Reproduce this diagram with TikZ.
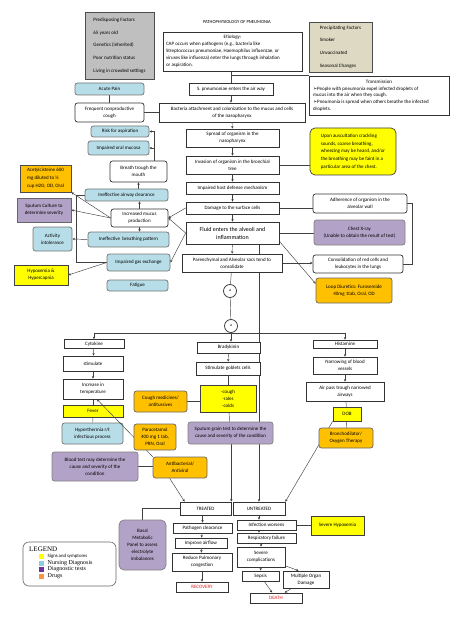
\documentclass[tikz,border=0pt]{standalone}
\usepackage{fontspec}
\setmainfont{Carlito}
\newfontfamily\legfont{Liberation Serif}
\newfontfamily\dingfont{DejaVu Sans}
\usetikzlibrary{arrows.meta,calc,backgrounds}
\definecolor{ndblue}{HTML}{B7DEE8}
\definecolor{dxpurp}{HTML}{B3A2C7}
\definecolor{rxorg}{HTML}{FFC000}
\definecolor{ssyel}{HTML}{FFFF00}
\definecolor{pregray}{HTML}{BFBFBF}
\definecolor{prctan}{HTML}{DDD9C3}
\definecolor{legblue}{HTML}{93CDDD}
\definecolor{legpurp}{HTML}{7030A0}
\definecolor{legorg}{HTML}{F79646}
\definecolor{dead}{HTML}{E02020}
\tikzset{sz/.style 2 args={minimum width=#1pt, minimum height=#2pt}}

\begin{document}
\begin{tikzpicture}[x=1pt,y=-1pt]
\tikzstyle{bx}=[draw=black!80, line width=0.7pt, fill=white, inner sep=0.5pt,
                align=center, font=\fontsize{5}{7}\selectfont]
\tikzstyle{rbx}=[bx, rounded corners=2.5pt]
\tikzstyle{nd}=[rbx, fill=ndblue, draw=black!55]
\tikzstyle{ss}=[bx, fill=ssyel, draw=black!75]
\tikzstyle{dx}=[rbx, fill=dxpurp, draw=black!50]
\tikzstyle{rx}=[rbx, fill=rxorg, draw=black!60]
\tikzstyle{ln}=[draw=black!75, line width=0.45pt]
\tikzstyle{arr}=[-{Stealth[length=2.6pt,width=2.4pt]}]
\tikzstyle{rnd}=[circle, draw=black!80, line width=0.7pt, fill=white, inner sep=0pt,
                 minimum size=13pt, font=\fontsize{4}{5}\selectfont]
\useasboundingbox (0,0) rectangle (474,620);

% top
\node[bx, draw=none, fill=none, font=\fontsize{4.6}{5}\selectfont] (ttl) at (237,22) {PATHOPHYSIOLOGY OF PNEUMONIA};
\node[bx, fill=pregray, draw=black!70, line width=0.9pt, sz={69}{67}, align=left,
      font=\fontsize{5}{12.7}\selectfont] (pre) at (119.5,45.5)
      {Predisposing Factors\\65 years old\\Genetics (inherited)\\Poor nutrition status\\Living in crowded settings};
\node[bx, sz={139}{39}, align=left] (etio) at (232.5,51.5)
      {\makebox[133pt]{Etiology:}\\CAP occurs when pathogens (e.g., bacteria like\\Streptococcus pneumoniae, Haemophilus influenzae, or\\viruses like influenza) enter the lungs through inhalation\\or aspiration.};
\node[bx, fill=prctan, draw=black!70, line width=0.9pt, sz={63}{50}, align=left,
      font=\fontsize{5}{12.7}\selectfont] (prc) at (340.5,47)
      {Precipitating Factors\\Smoker\\Unvaccinated\\Seasonal Changes};
\node[bx, sz={140}{39}, align=left, font=\fontsize{5}{6.8}\selectfont] (trans) at (379,95.5)
      {\makebox[132pt]{Transmission}\\{\dingfont ➢}People with pneumonia expel infected droplets of\\mucus into the air when they cough.\\{\dingfont ➢}Pneumonia is spread when others breathe the infected\\droplets.};

% main chain
\node[nd, sz={69}{12}] (pain) at (109.5,89) {Acute Pain};
\node[bx, sz={84}{12}] (spn) at (231,89) {S. pneumoniae enters the air way};
\node[rbx, sz={69}{19}] (cough) at (109.5,112.5) {Frequent nonproductive\\cough};
\node[bx, sz={146}{19}] (bact) at (232,112.5) {Bacteria attachment and colonization to the mucus and cells\\of the nasopharynx};
\node[nd, sz={58}{11}] (risk) at (120,131.5) {Risk for aspiration};
\node[nd, sz={61}{14}] (oral) at (118.5,148) {Impaired oral mucosa};
\node[rbx, sz={57}{21}] (breath) at (138.5,171.5) {Breath trough the\\mouth};
\node[bx, sz={93}{18}] (spread) at (232.5,138) {Spread of organism in the\\nasopharynx};
\node[bx, sz={93}{18}] (invas) at (232.5,165) {Invasion of organism in the bronchial\\tree};
\node[bx, sz={93}{12}] (host) at (232.5,188) {Impaired host defense mechanism};
\node[ss, rounded corners=5pt, sz={86}{47}, align=left, font=\fontsize{5}{7.8}\selectfont] (ausc) at (353,151.5)
      {Upon auscultation crackling\\sounds, coarse breathing,\\wheezing may be heard, and/or\\the breathing may be faint in a\\particular area of the chest.};
\node[rx, sharp corners, draw=black!70, sz={51}{27}, align=left, font=\fontsize{5}{8}\selectfont] (acet) at (45.5,178.5)
      {Acetylcisteine 600\\mg diluted to ½\\cup H2O, OD, Oral};
\node[nd, sz={83}{12}] (iac) at (126.5,195) {Ineffective airway clearance};
\node[bx, sz={93}{12}] (damage) at (232.5,208) {Damage to the surface cells};
\node[rbx, sz={94}{19}] (adh) at (360,203.5) {Adherence of organism in the\\alveolar wall};
\node[dx, sharp corners, draw=black!60, sz={54}{24}] (sput) at (44,210) {Sputum Culture to\\determine severity};
\node[rbx, sz={57}{18}] (imp) at (139.5,218) {Increased mucus\\production};
\node[bx, sz={93}{22}, font=\fontsize{6}{8}\selectfont] (fluid) at (232.5,233) {Fluid enters the alveoli and\\inflammation};
\node[dx, sz={91}{25}] (xray) at (359.5,232.5) {Chest X-ray\\(Unable to obtain the result of test)};
\node[nd, sz={39}{24}] (act) at (52.5,239) {Activity\\intolerance};
\node[nd, sz={81}{15}] (ibp) at (128.5,239.5) {Ineffective~~breathing pattern};
\node[bx, sz={100}{18}] (paren) at (232,263) {Parenchymal and Alveolar sacs tend to\\consolidate};
\node[rbx, sz={90}{18}] (cons) at (358,264) {Consolidation of red cells and\\leukocytes in the lungs};
\node[nd, sz={63}{17}] (ige) at (138.5,262.5) {Impaired gas exchange};
\node[ss, sz={54}{20}] (hypo) at (41,275) {Hypoxemia \&\\Hypercapnia};
\node[nd, sz={61}{11}] (fat) at (137.5,285.5) {Fatigue};
\node[rx, sz={76}{25}] (loop) at (354,290.5) {Loop Diuretics: Furosemide\\40mg 1tab, Oral, OD};
\node[rnd] (a1) at (230,291) {a};
\node[rnd] (a2) at (231,326) {a};

% three mediators
\node[bx, sz={60}{9}] (cyt) at (94,344) {Cytokine};
\node[bx, sz={60}{15}] (stim) at (93,363.5) {stimulate};
\node[bx, sz={60}{20}] (temp) at (93,389) {Increase in\\temperature};
\node[ss, sz={60}{12}] (fever) at (93,411) {Fever};
\node[nd, sz={61}{21}] (hyper) at (92.5,433.5) {Hyperthermia r/t\\infectious process};
\node[dx, sz={86}{29}] (blood) at (95,466.5) {Blood test may determine the\\cause and severity of the\\condition};
\node[rx, sz={54}{21}] (anti) at (180,467.5) {Antibacterial/\\Antiviral};
\node[bx, sz={63}{11}] (brady) at (228.5,347.5) {Bradykinin};
\node[bx, sz={64}{13}] (gob) at (228,368.5) {Stimulate goblets cells};
\node[ss, sz={56}{27}] (cgh) at (228,398.5) {-cough\\-rales\\-colds};
\node[rx, sz={53}{21}] (cmed) at (160.5,401.5) {Cough medicines/\\antitussives};
\node[dx, sz={85}{22}] (gram) at (230.5,433) {Sputum grain test to determine the\\cause and severity of the condition};
\node[bx, sz={64}{8}] (hist) at (345,344) {Histamine};
\node[bx, sz={64}{17}] (narr) at (345,365.5) {Narrowing of blood\\vessels};
\node[bx, sz={78}{19}] (air) at (345,391.5) {Air pass trough narrowed\\airways};
\node[ss, sz={28}{14}] (dob) at (347,414) {DOB};
\node[rx, sz={54}{20}] (bron) at (346,438) {Bronchodilator/\\Oxygen Therapy};

% outcome
\node[bx, sz={51}{13}] (trt) at (205.5,508.5) {TREATED};
\node[bx, sz={52}{13}] (unt) at (259,508.5) {UNTREATED};
\node[dx, rounded corners=5pt, sz={47}{50}] (bmp) at (142.5,545) {Basal\\Metabolic\\Panel to assess\\electrolyte\\imbalances};
\node[bx, sz={59}{10}] (path) at (202.5,528) {Pathogen clearance};
\node[bx, sz={52}{10}] (airf) at (201,543) {Improve airflow};
\node[bx, sz={60}{18}] (red) at (202,562) {Reduce Pulmonary\\congestion};
\node[bx, sz={52}{10}, text=dead] (rec) at (202,587) {RECOVERY};
\node[bx, sz={59}{10}] (inf) at (266.5,525) {Infection worsens};
\node[bx, sz={59}{10}] (resp) at (266.5,538) {Respiratory failure};
\node[bx, sz={48}{20}] (sev) at (261,557) {Severe\\complications};
\node[bx, sz={37}{10}] (seps) at (260.5,576) {Sepsis};
\node[bx, sz={46}{17}] (mod) at (306,579.5) {Multiple Organ\\Damage};
\node[bx, sz={52}{10}, text=dead] (death) at (276,598) {DEATH};
\node[ss, sz={53}{19}] (shyp) at (337.5,525.5) {Severe Hypoxemia};

% legend
\node[draw=black!60, rounded corners=6pt, line width=0.6pt, sz={93}{44}] (leg) at (69.5,564) {};
\node[anchor=west, inner sep=0pt, font=\legfont\fontsize{7}{8}\selectfont] (legt) at (29,549) {LEGEND};
\node[fill=ssyel, inner sep=0pt, sz={5}{5}] (k1) at (41.5,556) {};
\node[fill=legblue, inner sep=0pt, sz={5}{5}] (k2) at (41.5,563) {};
\node[fill=legpurp, inner sep=0pt, sz={5}{5}] (k3) at (41.5,569.5) {};
\node[fill=legorg, inner sep=0pt, sz={5}{5}] (k4) at (41.5,576.5) {};
\node[anchor=west, inner sep=0pt, font=\fontsize{4.8}{5}\selectfont] (l1) at (47.5,556) {Signs and symptoms};
\node[anchor=west, inner sep=0pt, font=\legfont\fontsize{6}{6}\selectfont] (l2) at (47.5,563) {Nursing Diagnosis};
\node[anchor=west, inner sep=0pt, font=\legfont\fontsize{6}{6}\selectfont] (l3) at (47.5,569.5) {Diagnostic tests};
\node[anchor=west, inner sep=0pt, font=\legfont\fontsize{6}{6}\selectfont] (l4) at (47.5,576.5) {Drugs};

\coordinate (bt) at ($(breath.north)+(15.5,0)$);

\begin{pgfonlayer}{background}
% top links
\draw[ln] (spn.north |- etio.south) -- (spn.north);
\draw[ln] (spn.north |- trans.north) -- (trans.north west);
\draw[ln] (pain) -- (cough);
\draw[ln] (cough) -- (bact);
\draw[ln,arr] (spn) -- (spn |- bact.north);
\draw[ln,arr] (bact) -- (spread);
\draw[ln,arr] (spread) -- (invas);
\draw[ln,arr] (invas) -- (host);
\draw[ln,arr] (host) -- (damage);
\draw[ln,arr] (damage) -- (fluid);
\draw[ln,arr] (fluid) -- (paren);
\draw[ln] (invas.east) -- (invas.east -| ausc.west);
\draw[ln] (damage.east) -- (damage.east -| adh.west);
\draw[ln] (fluid.east) -- (fluid.east -| xray.west);
\draw[ln,arr] (paren.east) -- (paren.east -| cons.west);
\draw[ln] (adh.east) -- ++(5,0) |- (cons.east);
\draw[ln,arr] (fluid.-10) -- (loop.170);
\draw[ln] (paren) -- (a1);
\draw[ln] (a1) -- (a2);
\draw[ln] (cyt.north |- a2.south) -- (hist.north |- a2.south);
\draw[ln,arr] (cyt.north |- a2.south) -- (cyt.north);
\draw[ln,arr] (a2.south) -- (a2.south |- brady.north);
\draw[ln,arr] (hist.north |- a2.south) -- (hist.north);
\draw[ln,arr] (unt.north |- fluid.south) -- (unt.north);
% nursing side
\draw[ln,arr] (damage.west) -- (imp.east);
\draw[ln,arr] (fluid.west) -- (imp.east);
\draw[ln,arr] (fluid.west) -- (ige.east);
\draw[ln,arr] (imp.north) -- (imp.north |- iac.south);
\draw[ln,arr] (breath.south |- iac.north) -- (breath.south);
\draw[ln] (bt) -- (bt |- risk.east);
\draw[ln,arr] (bt |- risk.east) -- (risk.east);
\draw[ln,arr] (bt |- oral.east) -- (oral.east);
\draw[ln,arr] (imp.south) -- (imp.south |- ibp.north);
\draw[ln,arr] (imp.west) -- (acet.south east);
\draw[ln,arr] (imp.west) -- (sput.east);
\draw[ln] (iac.west) -- ++(-8,0) |- (ige.west);
\draw[ln,arr] (ibp.west) -- (act.east);
\draw[ln,arr] (ige.west) -- (hypo.east);
% mediators
\draw[ln,arr] (cyt) -- (stim);
\draw[ln,arr] (stim) -- (temp);
\draw[ln] (temp) -- (fever);
\draw[ln] (fever) -- (hyper);
\draw[ln] (blood.east) -- (blood.east -| anti.west);
\draw[ln,arr] ($(anti.south west)+(17,0)$) -- ($(trt.north west)+(5,0)$);
\draw[ln,arr] (brady) -- (gob);
\draw[ln] (gob) -- (cgh);
\draw[ln] (cmed.east) -- (cmed.east -| cgh.west);
\draw[ln] (cgh) -- (gram);
\draw[ln,arr] (gram.south -| trt.north east) -- (trt.north east);
\draw[ln,arr] (hist) -- (narr);
\draw[ln,arr] (narr) -- (air);
\draw[ln] (air) -- (dob);
\draw[ln] (dob) -- (bron);
\draw[ln,arr] (dob.south west) -- (unt.north east);
% outcomes
\draw[ln] (trt.west) -| (bmp.north);
\draw[ln,arr] (path.north |- trt.south) -- (path.north);
\draw[ln,arr] (path) -- (airf);
\draw[ln,arr] (airf) -- (red);
\draw[ln,arr] (red) -- (rec);
\draw[ln,arr] (unt.south) -- (unt.south |- inf.north);
\draw[ln,arr] (unt.south |- inf.south) -- (unt.south |- resp.north);
\draw[ln,arr] (resp.south -| sev.north) -- (sev.north);
\draw[ln] (inf.east) -- (inf.east -| shyp.west);
\draw[ln,arr] (sev) -- (seps);
\draw[ln,arr] (sev.-20) -- (mod.130);
\draw[ln,arr] (seps) -- (death);
\draw[ln,arr] (mod) -- (death);
\end{pgfonlayer}

% drug line runs over fever, under paracetamol
\draw[ln,arr] (anti.north west) -- ($(temp.south)+(4,0)$);
\node[rx, sz={42}{26}] (para) at (155,437) {Paracetamol\\400 mg 1 tab,\\PRN, Oral};
\end{tikzpicture}
\end{document}
